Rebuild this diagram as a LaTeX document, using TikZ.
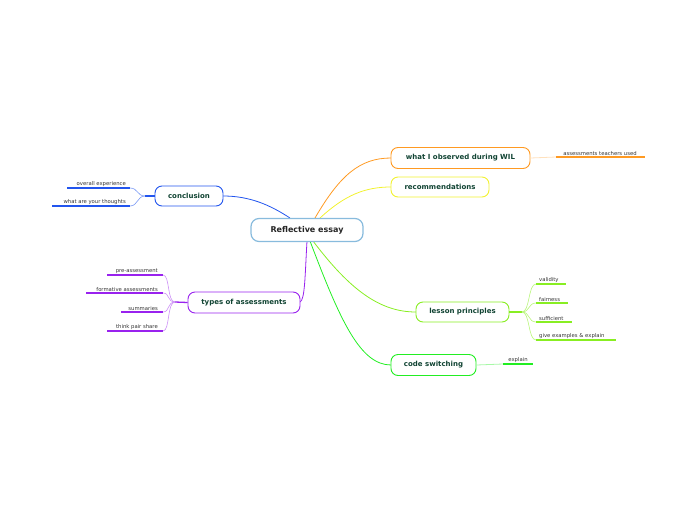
\documentclass[tikz,border=0pt]{standalone}
\usepackage{fontspec}
\setmainfont{DejaVu Sans}
\begin{document}
\begin{tikzpicture}[x=1pt,y=-1pt,
  topic/.style={draw=#1,line width=0.9pt,rounded corners=7pt,fill=white,inner sep=0pt,text={rgb,255:red,17;green,68;blue,51},font=\fontsize{7}{8}\selectfont\bfseries},
  leaf/.style={font=\fontsize{5.3}{6}\selectfont,text=black!80,inner sep=1pt,anchor=south},
  ul/.style={draw=#1,line width=1.3pt},
  br/.style={draw=#1,line width=0.8pt}]
\useasboundingbox (0,0) rectangle (697,520);
\definecolor{cOr}{HTML}{FF9A22}
\definecolor{cYe}{HTML}{F2F230}
\definecolor{cLg}{HTML}{88EE22}
\definecolor{cGr}{HTML}{22EE22}
\definecolor{cPu}{HTML}{9922EE}
\definecolor{cBl}{HTML}{2255EE}
\definecolor{cCe}{HTML}{88BBDD}
% branches from centre
\draw[br=cOr] (315,218) .. controls (340,175) and (360,158) .. (391,158);
\draw[br=cYe] (320,218) .. controls (345,195) and (365,187) .. (391,187);
\draw[br=cBl] (290,218) .. controls (270,205) and (250,196) .. (223,196);
\draw[br=cPu] (307,241) .. controls (305,275) and (305,300) .. (300,302);
\draw[br=cLg] (313,241) .. controls (350,290) and (380,312) .. (416,312);
\draw[br=cGr] (310,241) .. controls (340,320) and (360,365) .. (391,365);
\node[draw=cCe,line width=1.2pt,rounded corners=8pt,fill=white,minimum width=112pt,minimum height=23pt,inner sep=0pt,font=\fontsize{8}{9}\selectfont\bfseries,text=black!85] (c) at (307,230) {Reflective essay};
\node[topic=cOr,minimum width=139pt,minimum height=21pt] (wil) at (460.5,158) {what I observed during WIL};
\node[topic=cYe,minimum width=98pt,minimum height=20pt] (rec) at (440,187) {recommendations};
\node[topic=cLg,minimum width=93pt,minimum height=20pt] (lp) at (462.5,312) {lesson principles};
\node[topic=cGr,minimum width=85pt,minimum height=21pt] (cs) at (433.5,365) {code switching};
\node[topic=cPu,minimum width=112pt,minimum height=21pt] (ta) at (244,302.5) {types of assessments};
\node[topic=cBl,minimum width=68pt,minimum height=20pt] (co) at (189,196) {conclusion};
% leaves: WIL
\draw[draw=cOr!30,line width=0.8pt] (wil.east) -- (556,157);
\draw[ul=cOr] (556,157) -- (645,157);
\node[leaf] (l1) at (600,157) {assessments teachers used};
% code switching
\draw[draw=cGr!40,line width=0.8pt] (cs.east) -- (503,364);
\draw[ul=cGr] (503,364) -- (533,364);
\node[leaf] (l2) at (518,364) {explain};
% lesson principles
\coordinate (lpj) at (522,312);
\draw[ul=cLg] (lp.east) -- (lpj);
\foreach \y/\e/\t in {284/566/validity,303/568/fairness,322/572/sufficient,340/616/give examples \& explain}{
  \draw[draw=cLg!60,line width=0.6pt] (lpj) .. controls (530,312) and (528,\y) .. (536,\y);
  \draw[ul=cLg] (536,\y) -- (\e,\y);
  \node[leaf,anchor=south west] at (538,\y) {\t};
}
% conclusion
\coordinate (coj) at (145,196);
\draw[ul=cBl] (co.west) -- (coj);
\foreach \y/\s/\t in {188/67/overall experience,206/52/what are your thoughts}{
  \draw[draw=cBl!60,line width=0.6pt] (coj) .. controls (137,196) and (138,\y) .. (130,\y);
  \draw[ul=cBl] (\s,\y) -- (130,\y);
  \node[leaf,anchor=south east] at (127,\y) {\t};
}
% types
\coordinate (taj) at (175,302);
\draw[ul=cPu] (ta.west) -- (taj);
\foreach \y/\s/\t in {275/107/pre-assessment,293/86/formative assessments,312/121/summaries,331/107/think pair share}{
  \draw[draw=cPu!50,line width=0.6pt] (taj) .. controls (167,302) and (170,\y) .. (163,\y);
  \draw[ul=cPu] (\s,\y) -- (163,\y);
  \node[leaf,anchor=south east] at (159,\y) {\t};
}
\end{tikzpicture}
\end{document}
